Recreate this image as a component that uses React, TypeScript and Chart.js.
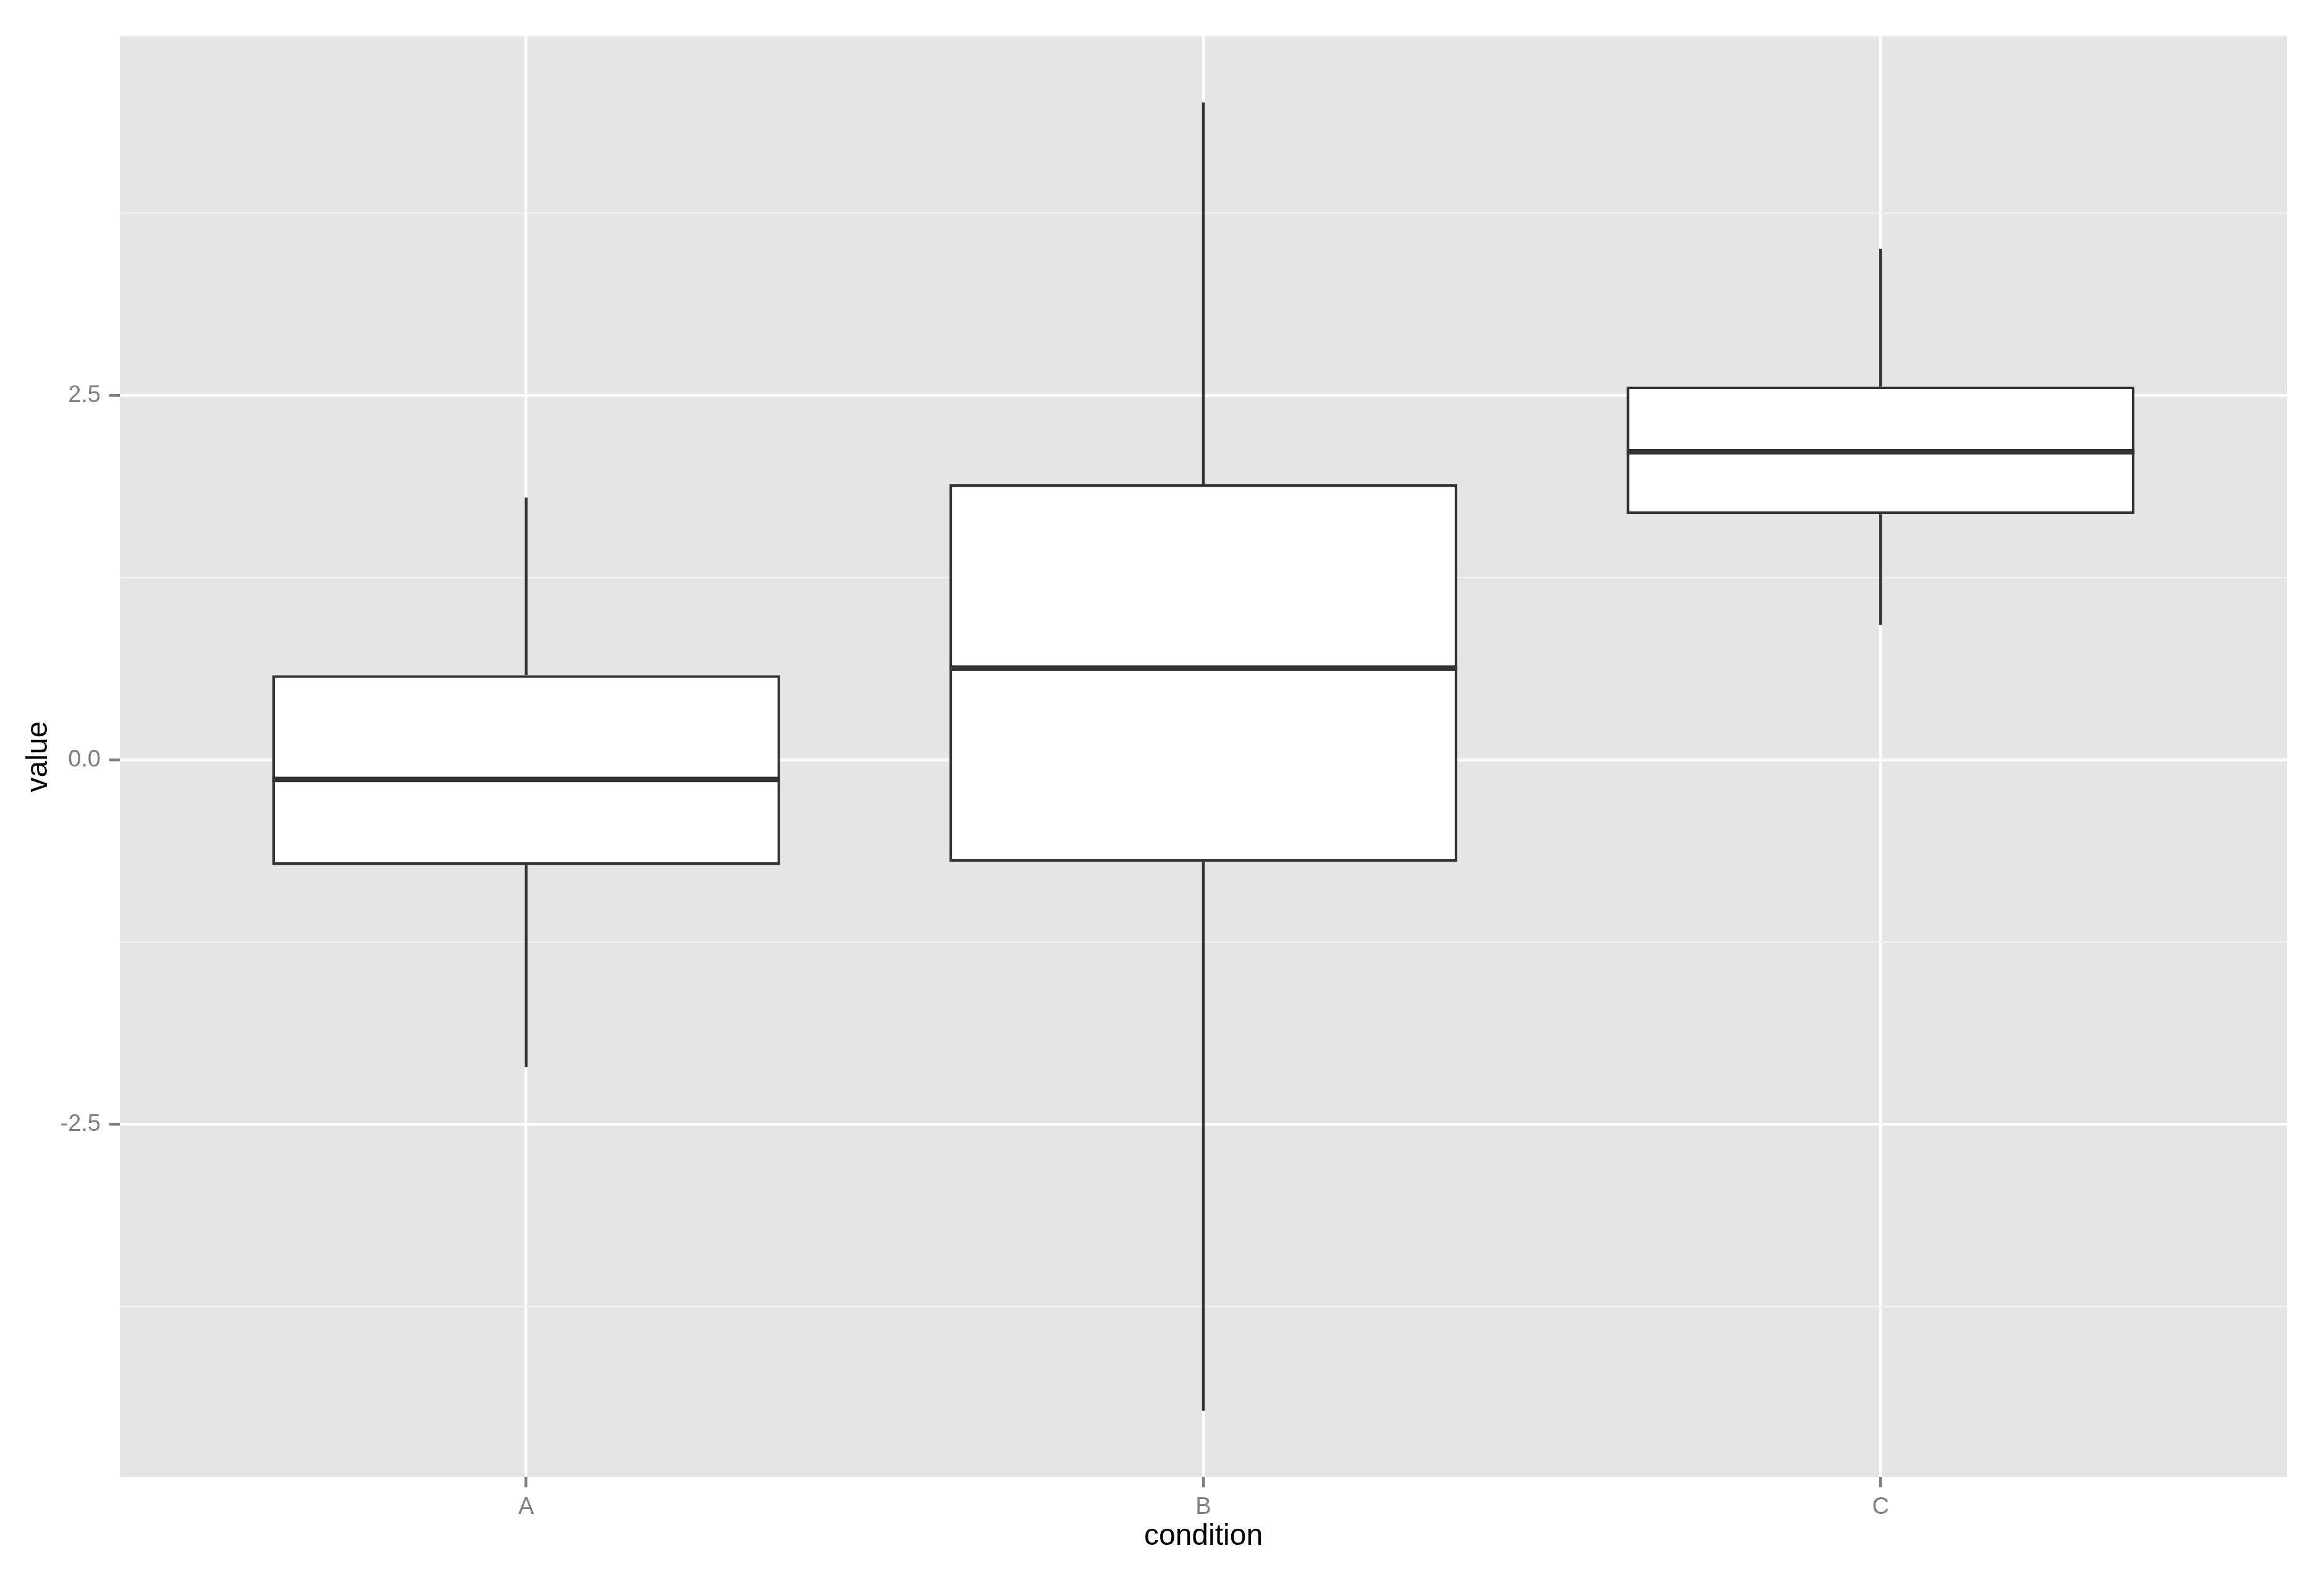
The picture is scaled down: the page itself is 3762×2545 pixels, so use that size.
import { useEffect, useRef } from 'react';
import { Chart, registerables } from 'chart.js';

Chart.register(...registerables);

// ---- data ----
const categories = ['A', 'B', 'C'];
const whiskerLow = [-2.108, -4.465, 0.925];
const q1 = [-0.722, -0.7, 1.686];
const median = [-0.135, 0.629, 2.113];
const q3 = [0.58, 1.89, 2.561];
const whiskerHigh = [1.799, 4.51, 3.506];

const yMajorTicks = [-2.5, 0, 2.5];
const yMajorLabels = ['-2.5', '0.0', '2.5'];
const yMinorTicks = [-3.75, -1.25, 1.25, 3.75];
const yMin = -4.919;
const yMax = 4.962;
const xMin = -0.6;
const xMax = 2.6;

const xTitle = 'condition';
const yTitle = 'value';

const FONT = "'Liberation Sans', Arial, Helvetica, sans-serif";
const PANEL = '#E5E5E5';
const INK = '#333333';
const AXIS_GREY = '#7F7F7F';

const isMajor = (v: number) => yMajorTicks.some((m) => Math.abs(m - v) < 1e-9);

const panelBackground = {
  id: 'panelBackground',
  beforeDraw(chart: any) {
    const { ctx, chartArea } = chart;
    ctx.save();
    ctx.fillStyle = PANEL;
    ctx.fillRect(chartArea.left, chartArea.top, chartArea.right - chartArea.left, chartArea.bottom - chartArea.top);
    ctx.restore();
  },
};

const boxExtras = {
  id: 'boxExtras',
  afterDatasetsDraw(chart: any) {
    const { ctx } = chart;
    const xs = chart.scales.x;
    const ys = chart.scales.y;
    const meta = chart.getDatasetMeta(0);
    ctx.save();
    ctx.strokeStyle = INK;
    ctx.lineCap = 'butt';
    categories.forEach((_, i) => {
      const px = xs.getPixelForValue(i);
      // whiskers
      ctx.lineWidth = 4.5;
      ctx.beginPath();
      ctx.moveTo(px, ys.getPixelForValue(whiskerHigh[i]));
      ctx.lineTo(px, ys.getPixelForValue(q3[i]));
      ctx.moveTo(px, ys.getPixelForValue(q1[i]));
      ctx.lineTo(px, ys.getPixelForValue(whiskerLow[i]));
      ctx.stroke();
      // median
      const bar = meta.data[i];
      const hw = bar ? bar.width / 2 : 0;
      ctx.lineWidth = 8.7;
      ctx.beginPath();
      const my = ys.getPixelForValue(median[i]);
      ctx.moveTo(px - hw, my);
      ctx.lineTo(px + hw, my);
      ctx.stroke();
    });
    ctx.restore();
  },
};

export default function App() {
  const canvasRef = useRef<HTMLCanvasElement | null>(null);

  useEffect(() => {
    document.body.style.margin = '0';
    const canvas = canvasRef.current;
    if (!canvas) return;
    const chart = new Chart(canvas, {
      type: 'bar',
      data: {
        datasets: [
          {
            data: categories.map((_, i) => ({ x: i, y: [q1[i], q3[i]] })) as any,
            backgroundColor: '#FFFFFF',
            borderColor: INK,
            borderWidth: 4.4,
            borderSkipped: false,
            barPercentage: 0.75,
            categoryPercentage: 1,
          },
        ],
      },
      options: {
        animation: false,
        responsive: true,
        maintainAspectRatio: false,
        events: [],
        layout: { padding: { left: 0, top: 59, right: 60, bottom: 0 } },
        plugins: { legend: { display: false }, tooltip: { enabled: false } },
        scales: {
          x: {
            type: 'linear',
            min: xMin,
            max: xMax,
            offset: false,
            afterBuildTicks: (scale: any) => {
              scale.ticks = categories.map((_, i) => ({ value: i }));
            },
            afterFit: (scale: any) => {
              scale.height = 154;
            },
            border: { display: false },
            grid: {
              offset: false,
              color: '#FFFFFF',
              lineWidth: 4.5,
              drawTicks: true,
              tickLength: 17,
              tickColor: AXIS_GREY,
              tickWidth: 4.5,
            },
            ticks: {
              padding: 10,
              color: AXIS_GREY,
              font: { family: FONT, size: 38, lineHeight: 1.2 },
              autoSkip: false,
              maxRotation: 0,
              callback: (_v: any, index: number) => categories[index] ?? '',
            },
            title: {
              display: true,
              text: xTitle,
              color: '#000000',
              font: { family: FONT, size: 48, lineHeight: 1.2 },
              padding: { top: 0, bottom: 28 },
            },
          },
          y: {
            type: 'linear',
            min: yMin,
            max: yMax,
            afterBuildTicks: (scale: any) => {
              scale.ticks = [...yMinorTicks, ...yMajorTicks]
                .sort((a, b) => a - b)
                .map((v) => ({ value: v, major: isMajor(v) }));
            },
            afterFit: (scale: any) => {
              scale.width = 194;
            },
            border: { display: false },
            grid: {
              color: (ctx: any) => (ctx.tick && isMajor(ctx.tick.value) ? '#FFFFFF' : '#F2F2F2'),
              lineWidth: (ctx: any) => (ctx.tick && isMajor(ctx.tick.value) ? 4.5 : 2.2),
              drawTicks: true,
              tickLength: 17,
              tickColor: (ctx: any) => (ctx.tick && isMajor(ctx.tick.value) ? AXIS_GREY : 'rgba(0,0,0,0)'),
              tickWidth: 4.5,
            },
            ticks: {
              padding: 14,
              color: AXIS_GREY,
              font: { family: FONT, size: 38, lineHeight: 1.2 },
              autoSkip: false,
              callback: (v: any) => {
                const idx = yMajorTicks.findIndex((m) => Math.abs(m - Number(v)) < 1e-9);
                return idx >= 0 ? yMajorLabels[idx] : '';
              },
            },
            title: {
              display: true,
              text: yTitle,
              color: '#000000',
              font: { family: FONT, size: 48, lineHeight: 1.2 },
              padding: { top: 34, bottom: 0 },
            },
          },
        },
      },
      plugins: [panelBackground, boxExtras],
    });
    return () => chart.destroy();
  }, []);

  return (
    <div style={{ position: 'relative', width: '3762px', height: '2545px', background: '#FFFFFF' }}>
      <canvas ref={canvasRef} />
    </div>
  );
}
